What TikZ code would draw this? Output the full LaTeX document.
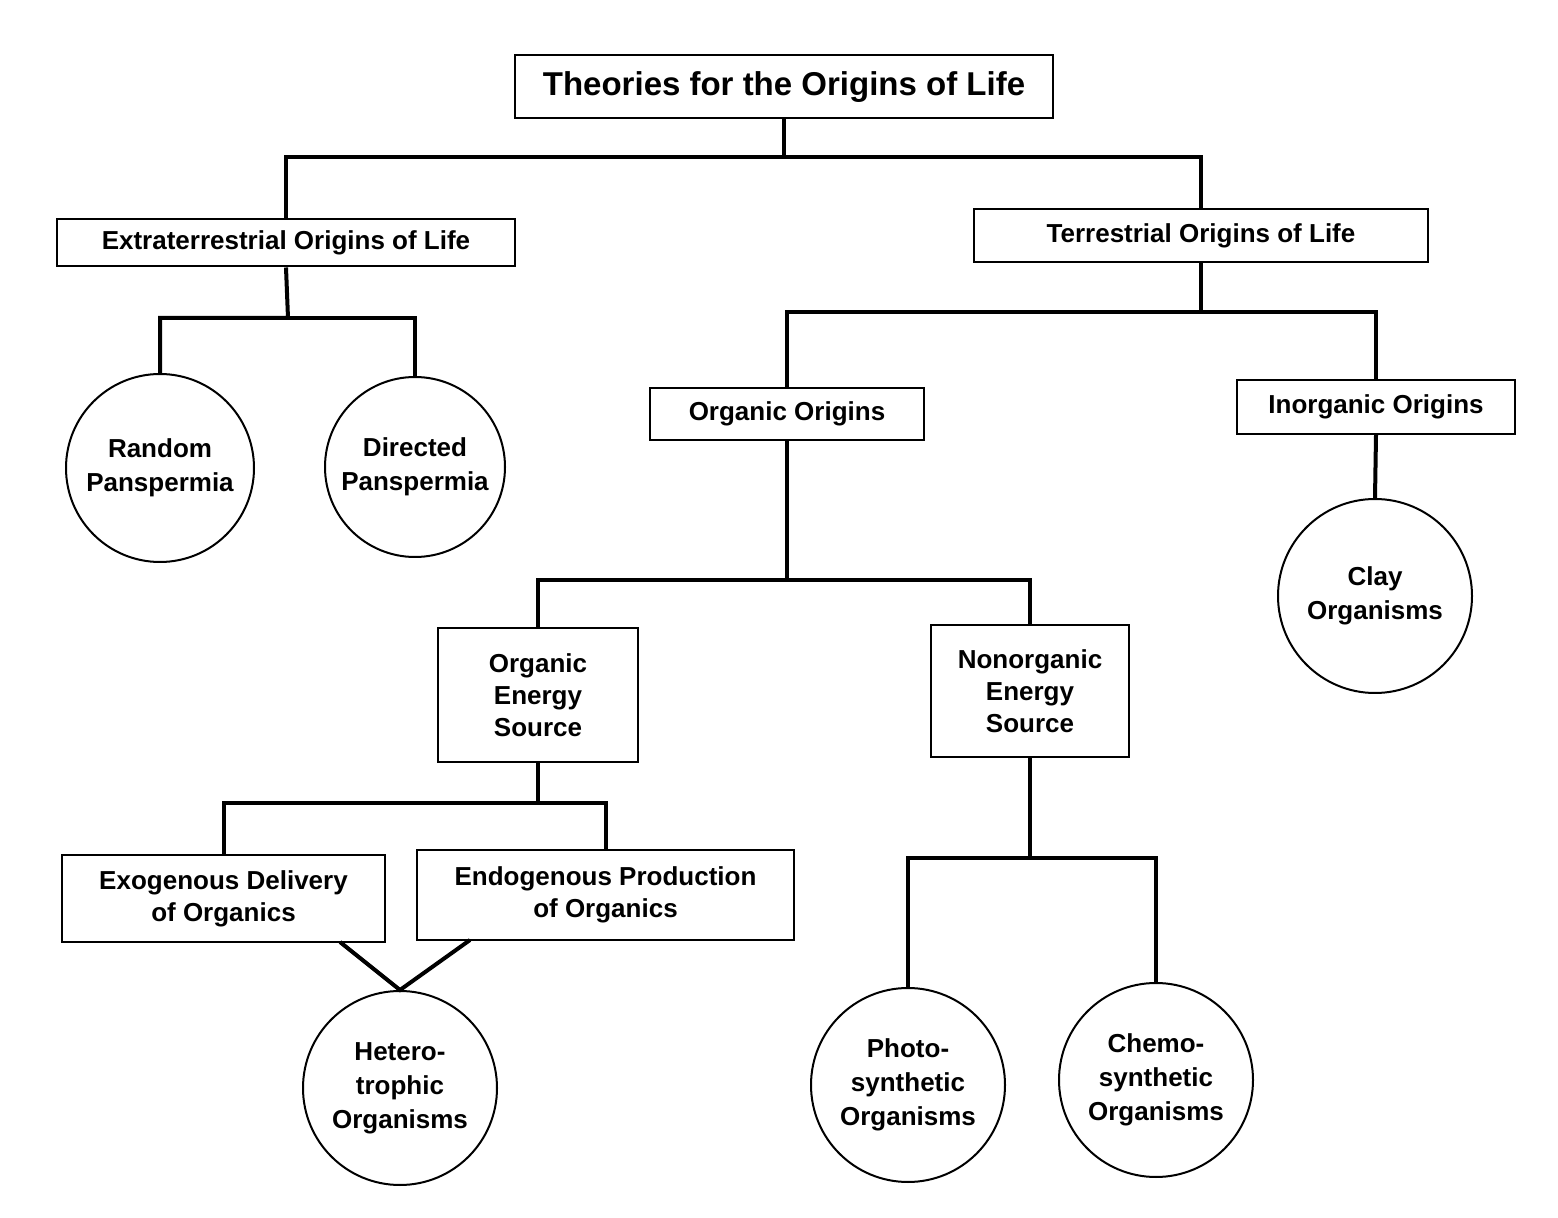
\documentclass[tikz,border=0pt]{standalone}
\usepackage{fontspec}
\setmainfont{Liberation Sans}
\begin{document}
\begin{tikzpicture}[x=0.5pt,y=-0.5pt,
  box/.style={draw,line width=1pt,inner sep=0pt,font=\bfseries\fontsize{13}{16}\selectfont,align=center},
  circ/.style={draw,circle,line width=1pt,inner sep=0pt,font=\bfseries\fontsize{13}{17}\selectfont,align=center},
  conn/.style={line width=2pt}]
\useasboundingbox (0,0) rectangle (1558,1218);
\node[box,minimum width=269pt,minimum height=31.5pt,font=\bfseries\fontsize{16.5}{20}\selectfont] (t) at (784,87) {Theories for the Origins of Life};
\node[box,minimum width=229pt,minimum height=23.5pt] (ex) at (286,243) {Extraterrestrial Origins of Life};
\node[box,minimum width=227pt,minimum height=26.5pt] (te) at (1201,236) {Terrestrial Origins of Life};
\node[box,minimum width=137pt,minimum height=26pt] (oo) at (787,414) {Organic Origins};
\node[box,minimum width=139pt,minimum height=27pt] (io) at (1376,407) {Inorganic Origins};
\node[box,minimum width=100pt,minimum height=67pt] (oe) at (538,695) {Organic\\Energy\\Source};
\node[box,minimum width=99pt,minimum height=66pt] (ne) at (1030,691) {Nonorganic\\Energy\\Source};
\node[box,minimum width=161.5pt,minimum height=43.5pt] (exo) at (223.5,898.5) {Exogenous Delivery\\of Organics};
\node[box,minimum width=188.5pt,minimum height=45pt] (endo) at (605.5,895) {Endogenous Production\\of Organics};
\node[circ,minimum size=94pt] (rp) at (160,468) {Random\\Panspermia};
\node[circ,minimum size=90pt] (dp) at (415,467) {Directed\\Panspermia};
\node[circ,minimum size=97pt] (cl) at (1375,596) {Clay\\Organisms};
\node[circ,minimum size=97pt] (he) at (400,1088) {Hetero-\\trophic\\Organisms};
\node[circ,minimum size=97pt] (ph) at (908,1085) {Photo-\\synthetic\\Organisms};
\node[circ,minimum size=97pt] (ch) at (1156,1080) {Chemo-\\synthetic\\Organisms};
\draw[conn] (t.south) -- (784,157) -| (ex.north);
\draw[conn] (784,157) -| (te.north);
\draw[conn] (ex.south) -- (288,318) -| (rp.north);
\draw[conn] (288,318) -| (dp.north);
\draw[conn] (te.south) -- (1201,312) -| (oo.north);
\draw[conn] (1201,312) -| (io.north);
\draw[conn] (io.south) -- (cl.north);
\draw[conn] (oo.south) -- (787,580) -| (oe.north);
\draw[conn] (787,580) -| (ne.north);
\draw[conn] (oe.south) -- (538,803) -| (exo.north);
\draw[conn] (538,803) -| (endo.north);
\draw[conn] (ne.south) -- (1030,858) -| (ph.north);
\draw[conn] (1030,858) -| (ch.north);
\coordinate (exb) at (340,942);
\coordinate (enb) at (470,940);
\draw[conn] (exb) -- (he.north) -- (enb);
\end{tikzpicture}
\end{document}
